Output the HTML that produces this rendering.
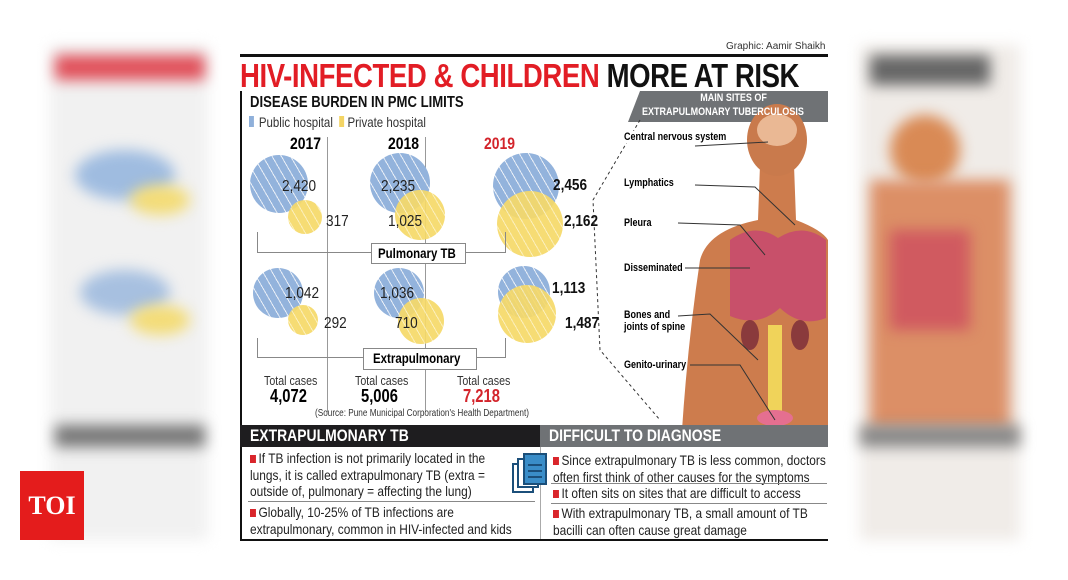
<!DOCTYPE html><html><head><meta charset="utf-8"><style>
body{margin:0;width:1068px;height:580px;overflow:hidden;background:#fff;position:relative;font-family:"Liberation Sans",sans-serif}
.a{position:absolute}
.blur{filter:blur(7px)}
.c{position:absolute;border-radius:50%}
.bl{background:repeating-linear-gradient(60deg,#93b3dc 0 7px,#e8eef6 7px 8px)}
.ye{background:repeating-linear-gradient(60deg,#f5d96a 0 7px,#fbeeb5 7px 8px);opacity:.93}
.n{position:absolute;font-size:16px;color:#222;transform:scaleX(.85);transform-origin:left}
.nb{font-weight:bold;color:#111}
.t{transform:scaleX(.82);transform-origin:left;white-space:nowrap}
.sq{display:inline-block;width:7px;height:8px;background:#d9252b;margin-right:3px}
.tx{font-size:14px;line-height:16.5px;color:#222;transform:scaleX(.85)}
</style></head><body>
<div class="a blur" style="left:50px;top:45px;width:158px;height:495px;background:#f1f1f1"></div>
<div class="a blur" style="left:55px;top:55px;width:150px;height:25px;background:#e0505a"></div>
<div class="a blur" style="left:75px;top:150px;width:100px;height:50px;border-radius:50%;background:#9fbce0"></div>
<div class="a blur" style="left:130px;top:185px;width:60px;height:30px;border-radius:50%;background:#f3dc78"></div>
<div class="a blur" style="left:80px;top:270px;width:90px;height:45px;border-radius:50%;background:#a7c0e0"></div>
<div class="a blur" style="left:130px;top:305px;width:60px;height:30px;border-radius:50%;background:#f3dc78"></div>
<div class="a blur" style="left:55px;top:425px;width:150px;height:22px;background:#777"></div>
<div class="a blur" style="left:860px;top:45px;width:160px;height:495px;background:#f0ece8"></div>
<div class="a blur" style="left:870px;top:55px;width:120px;height:30px;background:#666"></div>
<div class="a blur" style="left:890px;top:115px;width:70px;height:70px;border-radius:50%;background:#d98a55"></div>
<div class="a blur" style="left:870px;top:180px;width:140px;height:250px;background:#dc8f66"></div>
<div class="a blur" style="left:890px;top:230px;width:80px;height:100px;background:#d05a60"></div>
<div class="a blur" style="left:860px;top:425px;width:160px;height:22px;background:#888"></div>
<div class="a" style="left:20px;top:471px;width:64px;height:69px;background:#e41c1c;color:#fff;font-family:'Liberation Serif',serif;font-weight:bold;font-size:26px;line-height:69px;text-align:center">TOI</div>

<div class="a" style="left:726px;top:41px;font-size:10px;color:#333">Graphic: Aamir Shaikh</div>
<div class="a" style="left:240px;top:54px;width:588px;height:3px;background:#111"></div>
<div class="a t" style="left:240px;top:58px;font-size:33px;line-height:36px;font-weight:bold;letter-spacing:-0.5px;transform:scaleX(.835)"><span style="color:#e21d25">HIV-INFECTED &amp; CHILDREN</span> <span style="color:#111">MORE AT RISK</span></div>
<div class="a" style="left:240px;top:91px;width:1.5px;height:450px;background:#111"></div>
<div class="a" style="left:240px;top:539px;width:588px;height:2px;background:#111"></div>
<div class="a t" style="left:250px;top:94px;font-size:16px;font-weight:bold;color:#111">DISEASE BURDEN IN PMC LIMITS</div>
<div class="a t" style="left:249px;top:114px;font-size:14px;color:#333"><span style="display:inline-block;width:6px;height:11px;background:#8fb0da;margin-right:6px"></span>Public hospital &nbsp;<span style="display:inline-block;width:6px;height:11px;background:#f3d464;margin-right:4px"></span>Private hospital</div>
<div class="a" style="left:327px;top:137px;width:1px;height:275px;background:#999"></div>
<div class="a" style="left:425px;top:137px;width:1px;height:275px;background:#999"></div>
<div class="a t" style="left:290px;top:134px;font-size:17px;font-weight:bold">2017</div>
<div class="a t" style="left:388px;top:134px;font-size:17px;font-weight:bold">2018</div>
<div class="a t" style="left:484px;top:134px;font-size:17px;font-weight:bold;color:#d3242b">2019</div>

<div class="c bl" style="left:250px;top:155px;width:58px;height:58px"></div>
<div class="c ye" style="left:288px;top:200px;width:34px;height:34px"></div>
<div class="c bl" style="left:370px;top:153px;width:60px;height:60px"></div>
<div class="c ye" style="left:395px;top:190px;width:50px;height:50px"></div>
<div class="c bl" style="left:493px;top:153px;width:66px;height:66px"></div>
<div class="c ye" style="left:497px;top:191px;width:66px;height:66px"></div>
<div class="n" style="left:282px;top:178px">2,420</div>
<div class="n" style="left:326px;top:213px">317</div>
<div class="n" style="left:381px;top:178px">2,235</div>
<div class="n" style="left:388px;top:213px">1,025</div>
<div class="n nb" style="left:553px;top:177px;font-weight:bold">2,456</div>
<div class="n nb" style="left:564px;top:213px;font-weight:bold">2,162</div>

<div class="a" style="left:257px;top:232px;width:1px;height:21px;background:#888"></div>
<div class="a" style="left:505px;top:232px;width:1px;height:21px;background:#888"></div>
<div class="a" style="left:257px;top:252px;width:249px;height:1px;background:#888"></div>
<div class="a" style="left:371px;top:243px;width:93px;height:19px;background:#fff;border:1px solid #888"></div>
<div class="a t" style="left:378px;top:245px;font-size:14px;font-weight:bold">Pulmonary TB</div>

<div class="c bl" style="left:253px;top:268px;width:50px;height:50px"></div>
<div class="c ye" style="left:288px;top:305px;width:30px;height:30px"></div>
<div class="c bl" style="left:374px;top:268px;width:50px;height:50px"></div>
<div class="c ye" style="left:398px;top:298px;width:46px;height:46px"></div>
<div class="c bl" style="left:498px;top:266px;width:52px;height:52px"></div>
<div class="c ye" style="left:498px;top:285px;width:58px;height:58px"></div>
<div class="n" style="left:285px;top:285px">1,042</div>
<div class="n" style="left:324px;top:315px">292</div>
<div class="n" style="left:380px;top:285px">1,036</div>
<div class="n" style="left:395px;top:315px">710</div>
<div class="n nb" style="left:552px;top:280px;font-weight:bold">1,113</div>
<div class="n nb" style="left:565px;top:315px;font-weight:bold">1,487</div>

<div class="a" style="left:257px;top:338px;width:1px;height:20px;background:#888"></div>
<div class="a" style="left:505px;top:338px;width:1px;height:20px;background:#888"></div>
<div class="a" style="left:257px;top:357px;width:249px;height:1px;background:#888"></div>
<div class="a" style="left:363px;top:348px;width:112px;height:20px;background:#fff;border:1px solid #888"></div>
<div class="a t" style="left:373px;top:350px;font-size:14px;font-weight:bold">Extrapulmonary</div>

<div class="a t" style="left:264px;top:373px;font-size:13px;color:#333">Total cases</div>
<div class="a t" style="left:270px;top:386px;font-size:18px;font-weight:bold">4,072</div>
<div class="a t" style="left:355px;top:373px;font-size:13px;color:#333">Total cases</div>
<div class="a t" style="left:361px;top:386px;font-size:18px;font-weight:bold">5,006</div>
<div class="a t" style="left:457px;top:373px;font-size:13px;color:#333">Total cases</div>
<div class="a t" style="left:463px;top:386px;font-size:18px;font-weight:bold;color:#d3242b">7,218</div>
<div class="a t" style="left:315px;top:408px;font-size:10px;color:#333">(Source: Pune Municipal Corporation's Health Department)</div>

<svg class="a" style="left:590px;top:90px" width="240" height="340">
<polygon points="50,1 238,1 238,32 38,32" fill="#6f7275"/>
<path d="M50,30 L3,110 L10,260 L70,330" fill="none" stroke="#333" stroke-dasharray="3,3"/>
<path d="M170,75 L204,75 L206,130 Q232,140 238,150 L238,340 L92,340 Q98,250 110,170 Q118,140 168,130 Z" fill="#cd7c4d"/>
<ellipse cx="187" cy="50" rx="30" ry="36" fill="#c97a4c"/>
<ellipse cx="187" cy="40" rx="20" ry="16" fill="#eab894"/>
<path d="M140,150 q25,-18 48,-2 q25,-16 48,2 l0,78 q-25,10 -46,-10 q-22,20 -50,8z" fill="#c8506a"/>
<ellipse cx="160" cy="245" rx="9" ry="15" fill="#8a3a3c"/>
<ellipse cx="210" cy="245" rx="9" ry="15" fill="#8a3a3c"/>
<rect x="178" y="235" width="14" height="95" fill="#f0d35a"/>
<ellipse cx="185" cy="328" rx="18" ry="8" fill="#e56f90"/>
<path d="M105,56 L178,52 M105,95 L165,97 L205,135 M88,133 L150,135 L175,165 M95,178 L160,178 M88,226 L120,224 L168,270 M100,275 L150,275 L185,330" fill="none" stroke="#333" stroke-width="1"/>
</svg>
<div class="a t" style="left:668px;top:92px;font-size:11px;font-weight:bold;color:#fff;text-align:center;width:160px">MAIN SITES OF</div>
<div class="a t" style="left:642px;top:106px;font-size:11px;font-weight:bold;color:#fff">EXTRAPULMONARY TUBERCULOSIS</div>
<div class="a t" style="left:624px;top:131px;font-size:11px;font-weight:bold;background:#fff">Central nervous system</div>
<div class="a t" style="left:624px;top:177px;font-size:11px;font-weight:bold;background:#fff">Lymphatics</div>
<div class="a t" style="left:624px;top:217px;font-size:11px;font-weight:bold;background:#fff">Pleura</div>
<div class="a t" style="left:624px;top:262px;font-size:11px;font-weight:bold;background:#fff">Disseminated</div>
<div class="a t" style="left:624px;top:309px;font-size:11px;font-weight:bold;line-height:12px">Bones and<br>joints of spine</div>
<div class="a t" style="left:624px;top:359px;font-size:11px;font-weight:bold;background:#fff">Genito-urinary</div>

<div class="a" style="left:240px;top:425px;width:300px;height:22px;background:#1e1d1f"></div>
<div class="a" style="left:540px;top:425px;width:288px;height:22px;background:#6f7275"></div>
<div class="a t" style="left:250px;top:426px;font-size:17px;font-weight:bold;color:#fff">EXTRAPULMONARY TB</div>
<div class="a t" style="left:549px;top:426px;font-size:17px;font-weight:bold;color:#fff">DIFFICULT TO DIAGNOSE</div>
<div class="a" style="left:540px;top:447px;width:1px;height:92px;background:#aaa"></div>
<div class="a tx t" style="left:250px;top:450px"><span class="sq"></span>If TB infection is not primarily located in the<br>lungs, it is called extrapulmonary TB (extra =<br>outside of, pulmonary = affecting the lung)</div>
<div class="a" style="left:248px;top:501px;width:287px;height:1px;background:#888"></div>
<div class="a tx t" style="left:250px;top:504px"><span class="sq"></span>Globally, 10-25% of TB infections are<br>extrapulmonary, common in HIV-infected and kids</div>
<svg class="a" style="left:510px;top:452px" width="40" height="45"><rect x="3" y="12" width="20" height="28" fill="none" stroke="#1b4f7a" stroke-width="2"/><rect x="8" y="7" width="20" height="28" fill="#fff" stroke="#1b4f7a" stroke-width="2"/><rect x="14" y="2" width="22" height="30" fill="#3a8dc8" stroke="#1b4f7a" stroke-width="2"/><path d="M18,13h14M18,19h14M18,25h14" stroke="#1b4f7a" stroke-width="2"/></svg>
<div class="a tx t" style="left:553px;top:452px"><span class="sq"></span>Since extrapulmonary TB is less common, doctors<br>often first think of other causes for the symptoms</div>
<div class="a" style="left:551px;top:483px;width:276px;height:1px;background:#888"></div>
<div class="a tx t" style="left:553px;top:485px"><span class="sq"></span>It often sits on sites that are difficult to access</div>
<div class="a" style="left:551px;top:503px;width:276px;height:1px;background:#888"></div>
<div class="a tx t" style="left:553px;top:505px"><span class="sq"></span>With extrapulmonary TB, a small amount of TB<br>bacilli can often cause great damage</div>
</body></html>
